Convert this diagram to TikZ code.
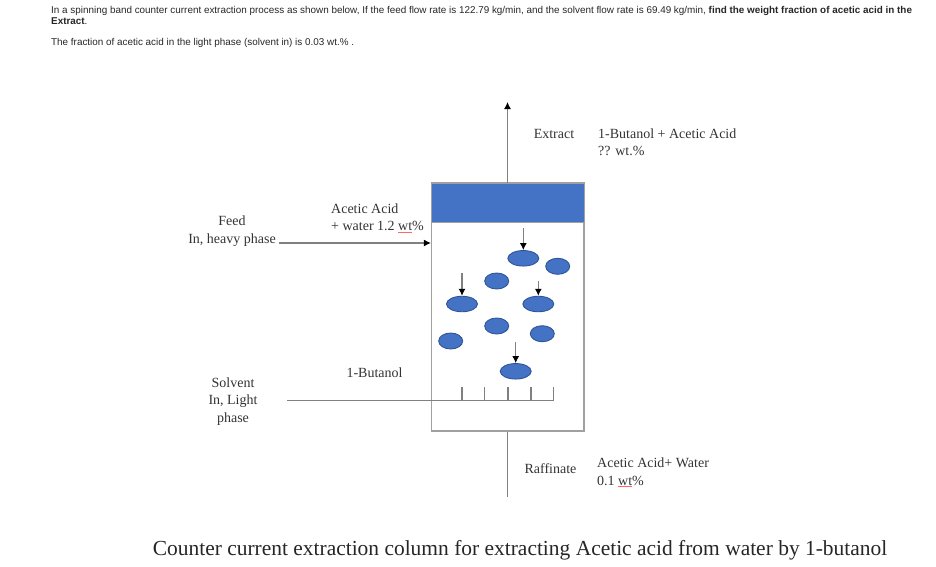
\documentclass[tikz,border=0pt]{standalone}
\usepackage{fontspec}
\usepackage{xcolor}
\setmainfont{Liberation Serif}
\newfontfamily\headfont{Liberation Sans}
\usetikzlibrary{arrows.meta}
\usetikzlibrary{shapes.geometric}
\definecolor{bandblue}{HTML}{4472C4}
\definecolor{dropedge}{HTML}{2F5597}
\definecolor{wallgray}{HTML}{A0A0A0}
\definecolor{linegray}{HTML}{808080}
\newcommand{\wtmark}{\rlap{\textcolor{red!60}{\underline{\phantom{wt}}}}wt}
\tikzset{
  headtext/.style={anchor=base west, inner sep=0pt, font=\headfont\fontsize{9.89}{11}\selectfont, text=black!85},
  streamtext/.style={inner sep=0pt, font=\fontsize{14}{17.4}\selectfont, text=black!80},
  flow/.style={draw=linegray, line width=1.2pt},
  flowtip/.style={flow, -{Latex[black, length=7pt, width=7pt]}},
  drop/.style={ellipse, draw=dropedge, line width=0.9pt, fill=bandblue, inner sep=0pt, minimum width=31pt, minimum height=15.5pt},
  smalldrop/.style={drop, minimum width=24pt, minimum height=16pt}
}
\begin{document}
\begin{tikzpicture}[x=1pt, y=-1pt]
        \useasboundingbox (0,0) rectangle (936,566);
        %question text
        \node [headtext] (line1) at (51,13) {In a spinning band counter current extraction process as shown below, If the feed flow rate is 122.79 kg/min, and the solvent flow rate is 69.49 kg/min, \textbf{find the weight fraction of acetic acid in the}};
        \node [headtext] (line2) at (51,24) {\textbf{Extract}.};
        \node [headtext] (line3) at (51,45) {The fraction of acetic acid in the light phase (solvent in) is 0.03 wt.\% .};
        %column and top band
        \node [draw=wallgray, line width=1.2pt, minimum width=152.5pt, minimum height=248pt, inner sep=0pt] (column) at (507.75,307) {};
        \node [draw=wallgray, line width=0.8pt, fill=bandblue, minimum width=152.5pt, minimum height=39pt, inner sep=0pt] (band) at (507.75,202.5) {};
        %stream ends
        \coordinate (extractend) at (507.5,102);
        \coordinate (raffinateend) at (507.5,497);
        \coordinate (feedin) at (279,243);
        \coordinate (solventin) at (287,400.7);
        \coordinate (combend) at (553.7,400.7);
        \draw [flowtip] (band.north -| extractend) -- (extractend);
        \draw [flow] (column.south -| raffinateend) -- (raffinateend);
        \draw [flowtip] (feedin) -- (column.west |- feedin);
        %sparger
        \draw [flow] (solventin) -- (combend);
        \foreach \tick in {462,484.7,508,531,553.7}
          \draw [flow] (\tick,400.7) -- (\tick,386.7);
        %drops
        \node [drop] (drop1) at (523.3,258.3) {};
        \node [smalldrop] (drop2) at (557.7,266.3) {};
        \node [smalldrop] (drop3) at (496.7,281) {};
        \node [drop] (drop4) at (462,304) {};
        \node [drop] (drop5) at (538.3,304) {};
        \node [smalldrop] (drop6) at (496.7,326) {};
        \node [smalldrop] (drop7) at (542.3,333.7) {};
        \node [smalldrop] (drop8) at (450.7,341) {};
        \node [drop] (drop9) at (515.7,371.3) {};
        %falling arrows
        \draw [flowtip] (523.3,228.3) -- (drop1);
        \draw [flowtip] (462,273.3) -- (drop4);
        \draw [flowtip] (538.3,281) -- (drop5);
        \draw [flowtip] (515.7,341.7) -- (drop9);
        %labels
        \node [streamtext, align=center] (feed) at (232,231) {Feed\\In, heavy phase};
        \node [streamtext, align=left, anchor=west] (acid) at (331,218) {Acetic Acid\\+ water 1.2 \wtmark\%};
        \node [streamtext, align=center] (solvent) at (233,401.5) {Solvent\\In, Light\\phase};
        \node [streamtext] (butanol) at (374.5,372.5) {1-Butanol};
        \node [streamtext] (extract) at (554,133.5) {Extract};
        \node [streamtext, align=left, anchor=west] (extractmix) at (598,142) {1-Butanol + Acetic Acid\\?? wt.\%};
        \node [streamtext] (raffinate) at (550.5,468.5) {Raffinate};
        \node [streamtext, align=left, anchor=west] (raffmix) at (597,472.5) {Acetic Acid+ Water\\0.1 \wtmark\%};
        \node [inner sep=0pt, font=\fontsize{21.45}{25}\selectfont, text=black!85] (caption) at (520,550) {Counter current extraction column for extracting Acetic acid from water by 1-butanol};
\end{tikzpicture}
\end{document}
